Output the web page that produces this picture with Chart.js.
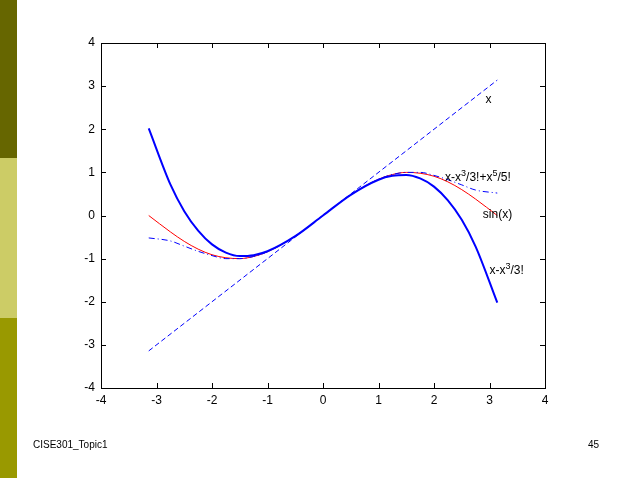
<!DOCTYPE html>
<html><head><meta charset="utf-8">
<script src="https://cdn.jsdelivr.net/npm/chart.js@4"></script>
<style>html,body{margin:0;padding:0;background:#fff}#c{display:block}</style>
</head><body>
<div style="width:638px;height:478px"><canvas id="c" width="638" height="478"></canvas></div>
<script>
const xs = [-3.14,-2.75,-2.5,-2.25,-2,-1.75,-1.5,-1.25,-1,-0.5,0,0.5,1,1.25,1.5,1.75,2,2.25,2.5,2.75,3.14];
const sinVals = [0,-0.38,-0.60,-0.78,-0.91,-0.98,-1.00,-0.95,-0.84,-0.48,0,0.48,0.84,0.95,1.00,0.98,0.91,0.78,0.60,0.38,0];
const taylor3 = [2.02,0.72,0.10,-0.35,-0.67,-0.86,-0.94,-0.92,-0.83,-0.48,0,0.48,0.83,0.92,0.94,0.86,0.67,0.35,-0.10,-0.72,-2.02];
const taylor5 = [-0.52,-0.59,-0.71,-0.83,-0.93,-1.00,-1.00,-0.95,-0.84,-0.48,0,0.48,0.84,0.95,1.00,1.00,0.93,0.83,0.71,0.59,0.52];
const lineX = [-3.14,3.14];
const ticks = [-4,-3,-2,-1,0,1,2,3,4];
const pts = (a,b)=>a.map((x,i)=>({x:x,y:b[i]}));

const deco = {
  id:'deco',
  beforeDraw(c){
    const g=c.ctx;
    g.save();
    g.fillStyle='#666600';g.fillRect(0,0,17,158);
    g.fillStyle='#cccc66';g.fillRect(0,158,17,160);
    g.fillStyle='#999900';g.fillRect(0,318,17,160);
    g.restore();
  },
  afterDraw(c){
    const g=c.ctx,a=c.chartArea,sx=c.scales.x,sy=c.scales.y;
    g.save();
    g.strokeStyle='#000';g.lineWidth=1;
    g.strokeRect(a.left+0.5,a.top+0.5,a.right-a.left,a.bottom-a.top);
    ticks.forEach(t=>{
      const px=Math.round(sx.getPixelForValue(t))+0.5, py=Math.round(sy.getPixelForValue(t))+0.5;
      g.beginPath();
      g.moveTo(px,a.bottom);g.lineTo(px,a.bottom-5);
      g.moveTo(px,a.top);g.lineTo(px,a.top+5);
      g.moveTo(a.left,py);g.lineTo(a.left+5,py);
      g.moveTo(a.right,py);g.lineTo(a.right-5,py);
      g.stroke();
    });
    g.fillStyle='#000';g.font='12px "Liberation Sans", Arial';g.textBaseline='alphabetic';
    const sup=(parts,x,y)=>{
      parts.forEach(p=>{
        if(p.s){g.font='9px "Liberation Sans", Arial';g.fillText(p.t,x,y-5);x+=g.measureText(p.t).width;}
        else {g.font='12px "Liberation Sans", Arial';g.fillText(p.t,x,y);x+=g.measureText(p.t).width;}
      });
    };
    sup([{t:'x'}], sx.getPixelForValue(2.93), sy.getPixelForValue(2.62));
    sup([{t:'x-x'},{t:'3',s:1},{t:'/3!+x'},{t:'5',s:1},{t:'/5!'}], sx.getPixelForValue(2.2), sy.getPixelForValue(0.8));
    sup([{t:'sin(x)'}], sx.getPixelForValue(2.88), sy.getPixelForValue(-0.05));
    sup([{t:'x-x'},{t:'3',s:1},{t:'/3!'}], sx.getPixelForValue(3.0), sy.getPixelForValue(-1.35));
    g.font='10px "Liberation Sans", Arial';
    g.fillText('CISE301_Topic1',33,448);
    g.fillText('45',588,448);
    g.restore();
  }
};

new Chart(document.getElementById('c'),{
  type:'scatter',
  data:{datasets:[
    {data:pts(lineX,lineX),showLine:true,borderColor:'#0000ff',borderWidth:1,borderDash:[5,3],pointRadius:0,tension:0},
    {data:pts(xs,taylor5),showLine:true,borderColor:'#0000ff',borderWidth:1,borderDash:[6,3,1,3],pointRadius:0,cubicInterpolationMode:'monotone'},
    {data:pts(xs,taylor3),showLine:true,borderColor:'#0000ff',borderWidth:2,pointRadius:0,cubicInterpolationMode:'monotone'},
    {data:pts(xs,sinVals),showLine:true,borderColor:'#ff0000',borderWidth:1,pointRadius:0,cubicInterpolationMode:'monotone'}
  ]},
  options:{
    responsive:false,animation:false,
    layout:{padding:{left:0,top:43,right:93,bottom:0}},
    plugins:{legend:{display:false},tooltip:{enabled:false}},
    scales:{
      x:{type:'linear',min:-4,max:4,afterBuildTicks(s){s.ticks=ticks.map(v=>({value:v}));},
        afterFit(s){s.height=90;},
        grid:{display:false,drawTicks:false},border:{display:false},
        ticks:{padding:5,color:'#000',font:{family:'"Liberation Sans", Arial',size:12}}},
      y:{type:'linear',min:-4,max:4,afterBuildTicks(s){s.ticks=ticks.map(v=>({value:v}));},
        afterFit(s){s.width=101;},
        grid:{display:false,drawTicks:false},border:{display:false},
        ticks:{padding:6,color:'#000',font:{family:'"Liberation Sans", Arial',size:12}}}
    }
  },
  plugins:[deco]
});
</script>
</body></html>
